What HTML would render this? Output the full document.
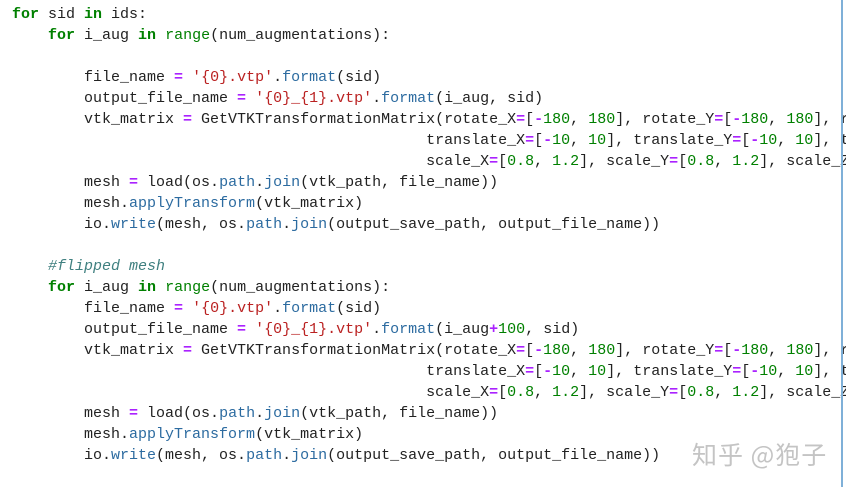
<!DOCTYPE html>
<html><head><meta charset="utf-8"><style>
html,body{margin:0;padding:0;width:846px;height:487px;overflow:hidden;background:#fff;}
pre{position:absolute;left:12px;top:4px;margin:0;font-family:"Liberation Mono",monospace;font-size:15px;line-height:21px;color:#222;white-space:pre;}
.k{color:#008000;font-weight:bold}
.b{color:#008000}
.o{color:#aa22ff;font-weight:bold}
.s{color:#ba2121}
.n{color:#008000}
.a{color:#2c6ba0}
.c{color:#408080;font-style:italic}
.bar{position:absolute;left:841px;top:0;width:2px;height:487px;background:#7fb0d8}
.wm{position:absolute;left:692px;top:436px;font-family:"Noto Sans CJK SC",sans-serif;font-size:25px;color:#c4c4c4;letter-spacing:1px}
</style></head><body>
<pre><span class="k">for</span> sid <span class="k">in</span> ids:
    <span class="k">for</span> i_aug <span class="k">in</span> <span class="b">range</span>(num_augmentations):

        file_name <span class="o">=</span> <span class="s">'{0}.vtp'</span>.<span class="a">format</span>(sid)
        output_file_name <span class="o">=</span> <span class="s">'{0}_{1}.vtp'</span>.<span class="a">format</span>(i_aug, sid)
        vtk_matrix <span class="o">=</span> GetVTKTransformationMatrix(rotate_X<span class="o">=</span>[<span class="o">-</span><span class="n">180</span>, <span class="n">180</span>], rotate_Y<span class="o">=</span>[<span class="o">-</span><span class="n">180</span>, <span class="n">180</span>], r
                                              translate_X<span class="o">=</span>[<span class="o">-</span><span class="n">10</span>, <span class="n">10</span>], translate_Y<span class="o">=</span>[<span class="o">-</span><span class="n">10</span>, <span class="n">10</span>], t
                                              scale_X<span class="o">=</span>[<span class="n">0.8</span>, <span class="n">1.2</span>], scale_Y<span class="o">=</span>[<span class="n">0.8</span>, <span class="n">1.2</span>], scale_Z
        mesh <span class="o">=</span> load(os.<span class="a">path</span>.<span class="a">join</span>(vtk_path, file_name))
        mesh.<span class="a">applyTransform</span>(vtk_matrix)
        io.<span class="a">write</span>(mesh, os.<span class="a">path</span>.<span class="a">join</span>(output_save_path, output_file_name))

    <span class="c">#flipped mesh</span>
    <span class="k">for</span> i_aug <span class="k">in</span> <span class="b">range</span>(num_augmentations):
        file_name <span class="o">=</span> <span class="s">'{0}.vtp'</span>.<span class="a">format</span>(sid)
        output_file_name <span class="o">=</span> <span class="s">'{0}_{1}.vtp'</span>.<span class="a">format</span>(i_aug<span class="o">+</span><span class="n">100</span>, sid)
        vtk_matrix <span class="o">=</span> GetVTKTransformationMatrix(rotate_X<span class="o">=</span>[<span class="o">-</span><span class="n">180</span>, <span class="n">180</span>], rotate_Y<span class="o">=</span>[<span class="o">-</span><span class="n">180</span>, <span class="n">180</span>], r
                                              translate_X<span class="o">=</span>[<span class="o">-</span><span class="n">10</span>, <span class="n">10</span>], translate_Y<span class="o">=</span>[<span class="o">-</span><span class="n">10</span>, <span class="n">10</span>], t
                                              scale_X<span class="o">=</span>[<span class="n">0.8</span>, <span class="n">1.2</span>], scale_Y<span class="o">=</span>[<span class="n">0.8</span>, <span class="n">1.2</span>], scale_Z
        mesh <span class="o">=</span> load(os.<span class="a">path</span>.<span class="a">join</span>(vtk_path, file_name))
        mesh.<span class="a">applyTransform</span>(vtk_matrix)
        io.<span class="a">write</span>(mesh, os.<span class="a">path</span>.<span class="a">join</span>(output_save_path, output_file_name))</pre>
<div class="bar"></div>
<div class="wm">知乎 @狍子</div>
</body></html>
